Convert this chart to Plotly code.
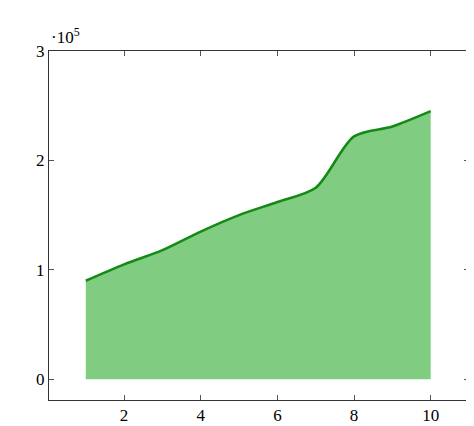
import plotly.graph_objects as go

x_vals = [1, 2, 3, 4, 5, 6, 7, 8, 9, 10]
y_vals = [0.90e5, 1.05e5, 1.18e5, 1.35e5, 1.50e5, 1.62e5, 1.75e5, 2.22e5, 2.31e5, 2.45e5]
x_ticks = [2, 4, 6, 8, 10]
y_ticks = [0, 1e5, 2e5, 3e5]
y_tick_text = ["0", "1", "2", "3"]

fig = go.Figure()
fig.add_trace(go.Scatter(
    x=x_vals, y=y_vals, mode="lines",
    line=dict(color="#138a13", width=2.5, shape="spline", smoothing=0.8),
    fill="tozeroy", fillcolor="#80cc80",
))
axis_common = dict(showgrid=False, zeroline=False, showline=True, linecolor="#333",
                   linewidth=1, mirror="ticks", ticks="inside", ticklen=5,
                   tickcolor="#555", tickfont=dict(size=17, color="#000"),
                   automargin=False)
fig.update_xaxes(range=[0.04, 11.0], tickvals=x_ticks, **axis_common)
fig.update_yaxes(range=[-0.19e5, 3e5], tickvals=y_ticks, ticktext=y_tick_text, **axis_common)
fig.add_annotation(xref="paper", yref="paper", x=0, y=1, xanchor="left", yanchor="bottom",
                   text="·10<sup>5</sup>", showarrow=False, font=dict(size=17, color="#000"), yshift=2)
fig.update_layout(width=474, height=426, margin=dict(l=41, r=13, t=43, b=34, autoexpand=False),
                  paper_bgcolor="white", plot_bgcolor="white", showlegend=False,
                  font=dict(family="Liberation Serif"))
fig.write_html("out.html")
